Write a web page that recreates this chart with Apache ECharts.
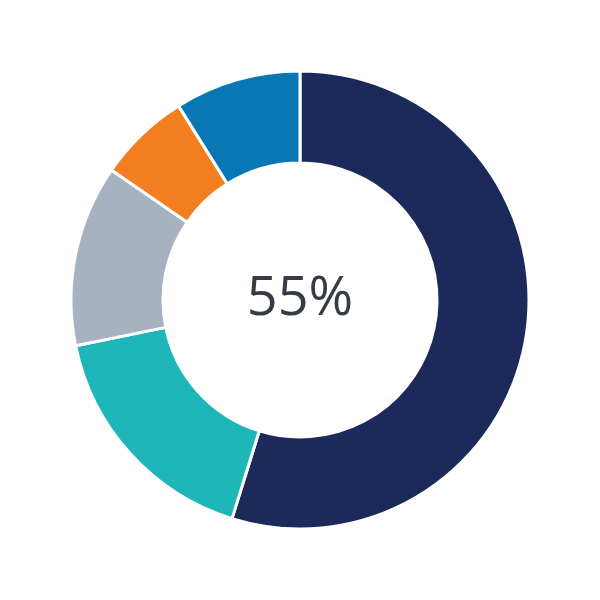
<!DOCTYPE html>
<html><head><meta charset="utf-8">
<script src="https://cdn.jsdelivr.net/npm/echarts@6/dist/echarts.min.js"></script>
<style>html,body{margin:0;padding:0;background:#fff}#c{width:600px;height:600px}</style>
</head><body><div id="c"></div>
<script>
const categories = ['A', 'B', 'C', 'D', 'E'];
const values = [54.8, 17.0, 12.8, 6.5, 8.9];
const colors = ['#1b2a5a', '#1eb6b8', '#a7b2c1', '#f37e20', '#0a77b5'];
const centerLabel = '55%';

const chart = echarts.init(document.getElementById('c'));
chart.setOption({
  animation: false,
  graphic: [{
    type: 'text', left: 'center', top: 'middle',
    style: { text: centerLabel, fontSize: 54, fontFamily: 'Open Sans', fill: '#363c46', align: 'center' },
    x: 300, y: 297
  }],
  series: [{
    type: 'pie',
    center: [300, 300],
    radius: [137, 229],
    startAngle: 90,
    clockwise: true,
    label: { show: false },
    labelLine: { show: false },
    itemStyle: { borderColor: '#fff', borderWidth: 3 },
    data: categories.map((c, i) => ({ name: c, value: values[i], itemStyle: { color: colors[i] } }))
  }]
});
</script></body></html>
